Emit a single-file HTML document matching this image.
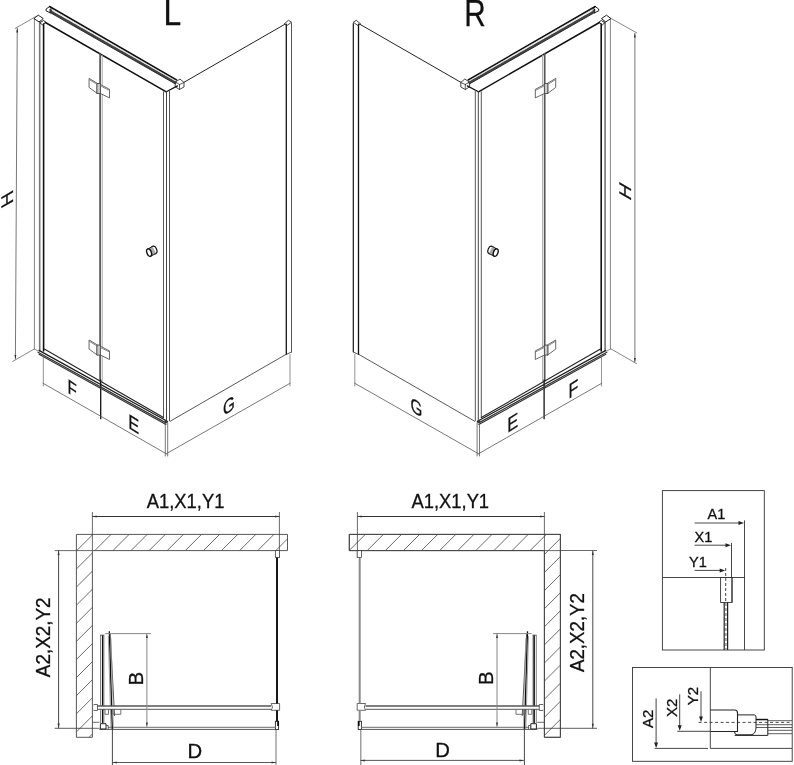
<!DOCTYPE html>
<html><head><meta charset="utf-8">
<style>
html,body{margin:0;padding:0;background:#fff;width:794px;height:765px;overflow:hidden}
svg{display:block;filter:grayscale(1)}
text{font-family:"Liberation Sans",sans-serif;fill:#111;stroke:#111;stroke-width:0.3px}
</style></head>
<body>
<svg width="794" height="765" viewBox="0 0 794 765">
<defs>
<g id="iso" fill="none" stroke-linecap="round" stroke-linejoin="round">
  <!-- left wall profile -->
  <line x1="34.4" y1="18.3" x2="34.4" y2="349.1" stroke="#777" stroke-width="0.9"/>
  <line x1="39.7" y1="21.7" x2="39.7" y2="351" stroke="#777" stroke-width="1.6"/>
  <line x1="43.6" y1="24" x2="43.6" y2="351" stroke="#111" stroke-width="1.6"/>
  <polygon points="34.2,18.3 38.3,15.2 43.3,18.6 39.4,21.7" stroke="#222" stroke-width="1"/>
  <polygon points="40.2,22.5 43.5,20.5 46,22.3 42.8,24.6" stroke="#222" stroke-width="1"/>
  <line x1="34.4" y1="349.1" x2="38" y2="351" stroke="#666" stroke-width="0.7"/>
  <!-- top bar -->
  <polygon points="46.4,8.8 49.6,6.5 52,9.8 50.3,12.8 46.4,11" stroke="#222" stroke-width="1" fill="#fff"/>
  <line x1="49.6" y1="6.5" x2="176.6" y2="80" stroke="#111" stroke-width="1.5"/>
  <line x1="50.2" y1="9.5" x2="50.3" y2="12.8" stroke="#111" stroke-width="1.3"/>
  <line x1="51" y1="11.6" x2="176" y2="83" stroke="#444" stroke-width="2.4" stroke-dasharray="0.9 0.7"/>
  <line x1="50.2" y1="12.6" x2="175.5" y2="84" stroke="#222" stroke-width="0.9"/>
  <line x1="51.8" y1="9.4" x2="176" y2="81" stroke="#ccc" stroke-width="0.6"/>
  <polygon points="175.5,82 180,79 184,82.5 184,87 179.5,89.5 175.5,87" stroke="#333" stroke-width="0.9"/>
  <line x1="175.5" y1="82" x2="179.5" y2="84.5" stroke="#333" stroke-width="0.8"/>
  <line x1="179.5" y1="84.5" x2="184" y2="82.5" stroke="#333" stroke-width="0.8"/>
  <line x1="179.5" y1="84.5" x2="179.5" y2="89.5" stroke="#333" stroke-width="0.8"/>
  <!-- door top edge -->
  <line x1="45.4" y1="22.5" x2="166.3" y2="91.8" stroke="#111" stroke-width="1.5"/>
  <line x1="166.3" y1="91.8" x2="177.5" y2="85.9" stroke="#111" stroke-width="1.2"/>
  <!-- hinge line -->
  <line x1="100.1" y1="53.5" x2="100.1" y2="381" stroke="#555" stroke-width="1.7"/>
  <line x1="102.2" y1="55" x2="102.2" y2="382" stroke="#aaa" stroke-width="1"/>
  <line x1="100.7" y1="380" x2="100.7" y2="418.7" stroke="#111" stroke-width="1.3"/>
  <!-- hinge plates -->
  <polygon points="89.4,78.6 97.3,83.3 97.3,93.5 89.4,87.7" stroke="#555" stroke-width="0.9" fill="#fff"/>
  <polygon points="100.4,84.6 109.5,89.3 109.5,97.9 100.4,93.5" stroke="#555" stroke-width="0.9" fill="#fff"/>
  <rect x="97.2" y="83.5" width="3.2" height="10" stroke="#444" stroke-width="0.9" fill="#ccc"/>
  <polygon points="89.4,340.2 97.3,344.9 97.3,355.1 89.4,349.3" stroke="#555" stroke-width="0.9" fill="#fff"/>
  <polygon points="100.4,346.2 109.5,350.9 109.5,359.5 100.4,355.1" stroke="#555" stroke-width="0.9" fill="#fff"/>
  <rect x="97.2" y="345.1" width="3.2" height="10" stroke="#444" stroke-width="0.9" fill="#ccc"/>
  <path d="M89.6 79.9 L97.2 84.4 M100.5 85.9 L109.4 90.4 M89.6 341.5 L97.2 346 M100.5 347.5 L109.4 352" stroke="#777" stroke-width="0.9" stroke-dasharray="0.8 0.6"/>
  <!-- corner post -->
  <line x1="163.5" y1="91.8" x2="163.5" y2="417.6" stroke="#555" stroke-width="1"/>
  <line x1="166.5" y1="91.8" x2="166.5" y2="421" stroke="#444" stroke-width="1"/>
  <line x1="169.5" y1="90.5" x2="169.5" y2="420.8" stroke="#555" stroke-width="1"/>
  <!-- right panel -->
  <line x1="184" y1="82.3" x2="285" y2="24.2" stroke="#222" stroke-width="1"/>
  <line x1="170.2" y1="421.2" x2="286" y2="354.4" stroke="#444" stroke-width="0.9"/>
  <line x1="286.3" y1="24.2" x2="286.3" y2="354.4" stroke="#111" stroke-width="1.3"/>
  <line x1="291.5" y1="23" x2="291.5" y2="352" stroke="#444" stroke-width="0.9"/>
  <polygon points="284.3,23.8 288.5,20.3 291.5,22.2 287.5,25.2" stroke="#333" stroke-width="0.9"/>
  <line x1="286.3" y1="354.4" x2="291.5" y2="352" stroke="#444" stroke-width="0.9"/>
  <!-- bottom profile -->
  <line x1="44.3" y1="349" x2="163.5" y2="417.6" stroke="#222" stroke-width="1.1"/>
  <line x1="39" y1="350.4" x2="165" y2="420" stroke="#1a1a1a" stroke-width="1.2"/>
  <line x1="38" y1="352.2" x2="165.5" y2="422.6" stroke="#333" stroke-width="1.2"/>
  <line x1="39" y1="354.3" x2="166" y2="424.5" stroke="#333" stroke-width="1.1"/>
  <!-- dimension lines F E G -->
  <line x1="43.3" y1="356" x2="43.3" y2="386" stroke="#666" stroke-width="0.7"/>
  <line x1="43.1" y1="383.3" x2="166.7" y2="454" stroke="#555" stroke-width="0.8"/>
  <line x1="165.3" y1="423" x2="165.3" y2="456" stroke="#555" stroke-width="0.8"/>
  <line x1="167.7" y1="423" x2="167.7" y2="456" stroke="#555" stroke-width="0.8"/>
  <path d="M164.5 419.5 L167 420.2 L168.3 421.5 L166.8 423.5 L165 422.5 Z" fill="#333" stroke="none"/>
  <line x1="166.7" y1="453.5" x2="290" y2="383.3" stroke="#555" stroke-width="0.8"/>
  <line x1="290" y1="354.5" x2="290" y2="386" stroke="#666" stroke-width="0.7"/>
  <!-- knob -->
  <ellipse cx="154.2" cy="250" rx="2.5" ry="3.9" transform="rotate(-22 154.2 250)" stroke="#111" stroke-width="1.2" fill="#fff"/>
  <polygon points="147.5,249.2 152.5,246.4 156,253.4 151,256.1" fill="#aaa" stroke="none"/>
  <line x1="147.5" y1="249.2" x2="152.5" y2="246.4" stroke="#222" stroke-width="1"/>
  <line x1="151" y1="256.1" x2="156" y2="253.4" stroke="#222" stroke-width="1"/>
  <ellipse cx="149.1" cy="252.6" rx="2.2" ry="3.9" transform="rotate(-20 149.1 252.6)" stroke="#111" stroke-width="1.4" fill="#fff"/>
</g>

<g id="plan" fill="none" stroke-linecap="butt">
  <!-- A1 dim -->
  <line x1="92.4" y1="512" x2="92.4" y2="550.6" stroke="#444" stroke-width="0.8"/>
  <line x1="279.4" y1="512" x2="279.4" y2="557.6" stroke="#444" stroke-width="0.8"/>
  <line x1="92.4" y1="516.5" x2="279.4" y2="516.5" stroke="#333" stroke-width="1"/>
  <path d="M92.6 516.5 l4 -1.1 v2.2 z M279.2 516.5 l-4 -1.1 v2.2 z" fill="#333" stroke="none"/>
  <!-- walls outline -->
  <path d="M76.4 534.4 H287.5 V550.6 H92.4 V737.3 H76.4 Z" stroke="#444" stroke-width="0.9"/>
  <line x1="76.4" y1="550.6" x2="92.4" y2="550.6" stroke="#444" stroke-width="0.8"/>
  <!-- right glass panel -->
  <rect x="275.4" y="550.6" width="4.2" height="7" stroke="#444" stroke-width="0.8" fill="#fff"/>
  <path d="M271.2 703.5 H279.6 V710.3 H271.2 L272.5 707 Z" stroke="#444" stroke-width="0.8" fill="#fff"/>
  <rect x="275.4" y="721.3" width="3.2" height="8.2" stroke="#222" stroke-width="0.9" fill="#fff"/>
  <path d="M278 721.3 V726" stroke="#000" stroke-width="1.6"/>
  <!-- door profile lines -->
  <line x1="108" y1="727.4" x2="275.4" y2="727.4" stroke="#888" stroke-width="1.4"/>
  <line x1="99.3" y1="729.4" x2="275.4" y2="729.4" stroke="#444" stroke-width="0.9"/>
  <!-- folded door -->
  <line x1="100.5" y1="635.2" x2="100.5" y2="723" stroke="#888" stroke-width="1"/>
  <line x1="102.7" y1="635.2" x2="102.7" y2="723" stroke="#111" stroke-width="1.6"/>
  <line x1="104.3" y1="636" x2="104.3" y2="723" stroke="#aaa" stroke-width="0.7"/>
  <path d="M100.2 635.2 H104.5" stroke="#444" stroke-width="0.9"/>
  <line x1="109.3" y1="631.3" x2="112.3" y2="729" stroke="#111" stroke-width="1.3"/>
  <line x1="110.2" y1="634" x2="114.6" y2="716" stroke="#444" stroke-width="0.9"/>
  <line x1="108.3" y1="636" x2="111" y2="729" stroke="#888" stroke-width="0.8"/>
  <line x1="111" y1="638" x2="113.6" y2="729" stroke="#999" stroke-width="0.7"/>
  <rect x="93.6" y="706" width="177.6" height="3.3" fill="#fff" stroke="none"/>
  <line x1="93.6" y1="705.9" x2="271.2" y2="705.9" stroke="#555" stroke-width="1.5"/>
  <line x1="93.6" y1="709.3" x2="271.2" y2="709.3" stroke="#444" stroke-width="0.9"/>
  <path d="M93.6 704.5 H97.5 V710.5 H93.6" stroke="#444" stroke-width="0.8" fill="#fff"/>
  <!-- small brackets -->
  <path d="M105 709.6 V714.3 H108.5 V709.6 M113 709.6 V714.3 H120.8 V709.6" stroke="#555" stroke-width="0.8"/>
  <path d="M100.4 723.7 H106 V729 H100.4 Z" stroke="#222" stroke-width="1"/>
  <path d="M106 725.5 H108.2 V729.4" stroke="#444" stroke-width="0.8"/>
  <path d="M92.4 722.3 H99.5 M92.4 728.3 H99.5" stroke="#444" stroke-width="0.8"/>
  <!-- D dim -->
  <line x1="112.4" y1="728" x2="112.4" y2="765" stroke="#333" stroke-width="0.9"/>
  <line x1="276" y1="729.7" x2="276" y2="765" stroke="#888" stroke-width="1.2"/>
</g>
<clipPath id="clipL"><path d="M76.4 534.4 H287.5 V550.6 H92.4 V737.3 H76.4 Z"/></clipPath>
<clipPath id="clipR"><path d="M349.3 534.4 H560.4 V737.3 H544.4 V550.6 H349.3 Z"/></clipPath>
</defs>

<!-- ============ L iso ============ -->
<use href="#iso"/>
<g fill="none" stroke="#555">
  <line x1="14.9" y1="28.6" x2="38.2" y2="15.2" stroke-width="0.7"/>
  <line x1="17.25" y1="27.8" x2="15.4" y2="359.3" stroke-width="0.8"/>
  <line x1="12.3" y1="361.6" x2="34.2" y2="349.1" stroke-width="0.7"/>
</g>
<path d="M17.2 28.2 l-0.9 4.2 h1.8 z M15.4 359.1 l-0.9 -4.2 h1.8 z" fill="#222"/>
<text transform="translate(163.5,25) scale(0.86,1)" font-size="37">L</text>
<text transform="matrix(0,-1,0.866,-0.5,12.8,203)" font-size="19.5">H</text>
<text transform="matrix(0.76,0.5,0,1,67.6,392.5)" font-size="20">F</text>
<text transform="matrix(0.8,0.5,0,1,128.2,427.8)" font-size="20.5">E</text>
<text transform="matrix(0.76,-0.5,0,1,223,416.2)" font-size="20">G</text>

<!-- ============ R iso ============ -->
<use href="#iso" transform="translate(644.8,0) scale(-1,1)"/>
<line x1="353.4" y1="23.5" x2="353.4" y2="352" stroke="#2a2a2a" stroke-width="1.2"/>
<g fill="none" stroke="#555">
  <line x1="610.8" y1="18.3" x2="637" y2="33" stroke-width="0.7"/>
  <line x1="634.9" y1="33" x2="634.9" y2="362.4" stroke-width="0.8"/>
  <line x1="610.8" y1="348.8" x2="637" y2="363.9" stroke-width="0.7"/>
</g>
<path d="M634.9 33.2 l-0.9 4.2 h1.8 z M634.9 362.2 l-0.9 -4.2 h1.8 z" fill="#222"/>
<text transform="translate(464.2,26) scale(0.82,1)" font-size="36.3">R</text>
<text transform="matrix(0,-1,0.866,0.5,630.5,201.5)" font-size="19.5">H</text>
<text transform="matrix(0.78,-0.5,0,1,568.6,399)" font-size="20.5">F</text>
<text transform="matrix(0.8,-0.5,0,1,507.2,433)" font-size="20.5">E</text>
<text transform="matrix(0.76,0.5,0,1,410.5,410.3)" font-size="20">G</text>

<!-- ============ Left plan ============ -->
<use href="#plan"/>
<path d="M277 557.6 V703.5 M277 710.3 V721.3" stroke="#000" stroke-width="1.8"/>
<g clip-path="url(#clipL)" stroke="#444" stroke-width="0.8"><line x1="-148.9" y1="740" x2="61.1" y2="530"/><line x1="-130.8" y1="740" x2="79.2" y2="530"/><line x1="-112.7" y1="740" x2="97.3" y2="530"/><line x1="-94.6" y1="740" x2="115.4" y2="530"/><line x1="-76.5" y1="740" x2="133.5" y2="530"/><line x1="-58.4" y1="740" x2="151.6" y2="530"/><line x1="-40.3" y1="740" x2="169.7" y2="530"/><line x1="-22.2" y1="740" x2="187.8" y2="530"/><line x1="-4.1" y1="740" x2="205.9" y2="530"/><line x1="14.0" y1="740" x2="224.0" y2="530"/><line x1="32.1" y1="740" x2="242.1" y2="530"/><line x1="50.2" y1="740" x2="260.2" y2="530"/><line x1="68.3" y1="740" x2="278.3" y2="530"/><line x1="86.4" y1="740" x2="296.4" y2="530"/><line x1="104.5" y1="740" x2="314.5" y2="530"/><line x1="122.6" y1="740" x2="332.6" y2="530"/></g>
<g fill="none" stroke="#444" stroke-width="0.8">
  <line x1="54.7" y1="550.6" x2="76.4" y2="550.6"/>
  <line x1="54.7" y1="728.3" x2="92.4" y2="728.3" stroke="#333"/>
  <line x1="58.6" y1="550.6" x2="58.6" y2="728.3" stroke="#333" stroke-width="0.9"/>
  <line x1="105.1" y1="633.6" x2="151.1" y2="633.6" stroke="#888" stroke-width="1"/>
  <line x1="146.9" y1="633.6" x2="146.9" y2="726.8" stroke="#888" stroke-width="1"/>
  <line x1="112.4" y1="762.5" x2="276" y2="762.5" stroke="#444" stroke-width="0.9"/>
</g>
<path d="M58.6 551 l-1 4 h2 z M58.6 728 l-1.1 -4.5 h2.2 z M146.9 634 l-1 4 h2 z M146.9 726.5 l-1 -4 h2 z M112.8 762.5 l4 -1 v2 z M275.6 762.5 l-4 -1 v2 z" fill="#333"/>
<text x="146.8" y="508.4" font-size="20" textLength="77.6" lengthAdjust="spacingAndGlyphs">A1,X1,Y1</text>
<text transform="translate(50.3,677.2) rotate(-90)" font-size="20" textLength="79.8" lengthAdjust="spacingAndGlyphs">A2,X2,Y2</text>
<text transform="translate(143.3,685.5) rotate(-90)" font-size="20.5">B</text>
<text x="187.5" y="757.9" font-size="20.3">D</text>

<!-- ============ Right plan ============ -->
<use href="#plan" transform="translate(636.8,0) scale(-1,1)"/>
<path d="M359.7 558 V703.3 M359.7 710.6 V721" stroke="#8a8a8a" stroke-width="2"/>
<g clip-path="url(#clipR)" stroke="#444" stroke-width="0.8"><line x1="141.6" y1="740" x2="351.6" y2="530"/><line x1="159.7" y1="740" x2="369.7" y2="530"/><line x1="177.8" y1="740" x2="387.8" y2="530"/><line x1="195.9" y1="740" x2="405.9" y2="530"/><line x1="214.0" y1="740" x2="424.0" y2="530"/><line x1="232.1" y1="740" x2="442.1" y2="530"/><line x1="250.2" y1="740" x2="460.2" y2="530"/><line x1="268.3" y1="740" x2="478.3" y2="530"/><line x1="286.4" y1="740" x2="496.4" y2="530"/><line x1="304.5" y1="740" x2="514.5" y2="530"/><line x1="322.6" y1="740" x2="532.6" y2="530"/><line x1="340.7" y1="740" x2="550.7" y2="530"/><line x1="358.8" y1="740" x2="568.8" y2="530"/><line x1="376.9" y1="740" x2="586.9" y2="530"/><line x1="395.0" y1="740" x2="605.0" y2="530"/><line x1="413.1" y1="740" x2="623.1" y2="530"/><line x1="431.2" y1="740" x2="641.2" y2="530"/><line x1="449.3" y1="740" x2="659.3" y2="530"/><line x1="467.4" y1="740" x2="677.4" y2="530"/><line x1="485.5" y1="740" x2="695.5" y2="530"/><line x1="503.6" y1="740" x2="713.6" y2="530"/><line x1="521.7" y1="740" x2="731.7" y2="530"/><line x1="539.8" y1="740" x2="749.8" y2="530"/><line x1="557.9" y1="740" x2="767.9" y2="530"/></g>
<g fill="none" stroke="#444" stroke-width="0.8">
  <path d="M349.3 534.4 H560.4 V737.3 H544.4 V550.6 H349.3 Z" stroke-width="0.9"/>
  <line x1="560.4" y1="550.5" x2="597" y2="550.5"/>
  <line x1="544.4" y1="728.3" x2="597" y2="728.3" stroke="#333"/>
  <line x1="592.8" y1="550.5" x2="592.8" y2="728.3" stroke="#333" stroke-width="0.9"/>
  <line x1="493" y1="633.6" x2="531.7" y2="633.6" stroke="#888" stroke-width="1"/>
  <line x1="497" y1="633.6" x2="497" y2="726.8" stroke="#888" stroke-width="1"/>
  <line x1="360.4" y1="760.4" x2="523.9" y2="760.4" stroke="#444" stroke-width="0.9"/>
</g>
<path d="M592.8 551 l-1 4 h2 z M592.8 727.8 l-1 -4 h2 z M497 634 l-1 4 h2 z M497 726.5 l-1 -4 h2 z M360.8 760.4 l4 -1 v2 z M523.5 760.4 l-4 -1 v2 z" fill="#333"/>
<text x="411.5" y="508.4" font-size="20" textLength="77.6" lengthAdjust="spacingAndGlyphs">A1,X1,Y1</text>
<text transform="translate(583.5,672) rotate(-90)" font-size="20" textLength="79" lengthAdjust="spacingAndGlyphs">A2,X2,Y2</text>
<text transform="translate(492.8,685) rotate(-90)" font-size="20.5">B</text>
<text x="435.3" y="756.8" font-size="20.3">D</text>

<!-- ============ Detail box 1 ============ -->
<g fill="none" stroke="#333" stroke-width="0.9">
  <rect x="662.4" y="490.6" width="101.9" height="159.4"/>
  <line x1="662.4" y1="577.5" x2="745" y2="577.5"/>
  <line x1="744.5" y1="520.4" x2="744.5" y2="650"/>
  <line x1="731.5" y1="542.9" x2="731.5" y2="577.5"/>
  <line x1="694.6" y1="523" x2="740" y2="523"/>
  <line x1="694.6" y1="545.2" x2="727" y2="545.2"/>
  <line x1="694.6" y1="570.4" x2="721.5" y2="570.4"/>
  <line x1="725.7" y1="568" x2="725.7" y2="602" stroke-dasharray="3 2"/>
  <rect x="720.6" y="577.5" width="11.6" height="24.9"/>
  <line x1="731.8" y1="577.5" x2="731.8" y2="602.4"/>
  <line x1="724.2" y1="602.4" x2="724.2" y2="650" stroke="#222" stroke-width="1.2"/>
  <line x1="727.6" y1="602.4" x2="727.6" y2="650" stroke="#222" stroke-width="1.2"/>
  <line x1="725.9" y1="603" x2="725.9" y2="650" stroke="#999" stroke-width="1.6" stroke-dasharray="3 2"/>
</g>
<path d="M744 523 l-5.5 -2 v4 z M731 545.2 l-5.5 -2 v4 z M725.2 570.4 l-5.5 -2 v4 z" fill="#222"/>
<text x="707.5" y="519.4" font-size="14.5">A1</text>
<text x="694.5" y="541.8" font-size="14.5">X1</text>
<text x="689" y="566.9" font-size="14.5">Y1</text>

<!-- ============ Detail box 2 ============ -->
<g fill="none" stroke="#333" stroke-width="0.9">
  <rect x="632.5" y="667.5" width="159.7" height="93.8"/>
  <line x1="710.3" y1="667.5" x2="710.3" y2="748.4"/>
  <line x1="654.7" y1="748.4" x2="708" y2="748.4"/>
  <line x1="710.3" y1="748.4" x2="792" y2="748.4"/>
  <line x1="656.1" y1="698.4" x2="656.1" y2="743"/>
  <line x1="679.7" y1="694.3" x2="679.7" y2="726"/>
  <line x1="677.3" y1="731.3" x2="710.3" y2="731.3"/>
  <line x1="701" y1="691.3" x2="701" y2="717"/>
  <line x1="698.6" y1="722.4" x2="792" y2="722.4" stroke-dasharray="3 2.5"/>
  <path d="M710.3 710 H734.7 Q737.5 710 737.5 713 V731.5 H710.3" stroke="#222" stroke-width="1.1"/>
  <path d="M737.5 714.9 H754.3 Q756 715 756 717 V728 Q755.5 734.5 751 734.8 H737 Q734.7 734.8 734.7 732" stroke="#222" stroke-width="1"/>
  <path d="M756 719.4 H767.8 V735.4 H734.7" stroke="#222" stroke-width="1"/>
  <line x1="767.8" y1="720.7" x2="792" y2="720.7" stroke-width="0.8"/>
  <line x1="756" y1="724.7" x2="792" y2="724.7" stroke-width="0.8"/>
  <line x1="756" y1="727.5" x2="792" y2="727.5" stroke-width="0.8"/>
  <line x1="767.8" y1="730.3" x2="792" y2="730.3" stroke-width="0.8"/>
  <line x1="767.8" y1="733.7" x2="792" y2="733.7" stroke-width="0.8"/>
  <line x1="756" y1="719.6" x2="767.8" y2="719.6" stroke="#111" stroke-width="1.4"/>
</g>
<path d="M656.1 748 l-2 -5.5 h4 z M679.7 730.8 l-2 -5.5 h4 z M701 721.9 l-2 -5.5 h4 z" fill="#222"/>
<text transform="translate(653.3,728) rotate(-90)" font-size="15">A2</text>
<text transform="translate(676.6,717) rotate(-90)" font-size="15">X2</text>
<text transform="translate(698.2,705.3) rotate(-90)" font-size="15">Y2</text>
</svg>
</body></html>
